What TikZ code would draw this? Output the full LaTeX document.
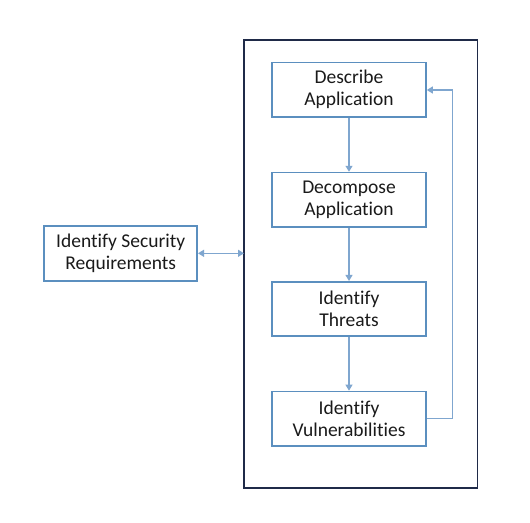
\documentclass[tikz,border=0pt]{standalone}
\usepackage{fontspec}
\setmainfont{Carlito}[Ligatures={NoCommon}]
\usetikzlibrary{arrows.meta}
\definecolor{boxc}{HTML}{5B8FBF}
\definecolor{arrc}{HTML}{7FA6CF}
\definecolor{outc}{HTML}{1F2A48}
\definecolor{txtc}{HTML}{1A1A1A}
\begin{document}
\begin{tikzpicture}[x=1pt,y=-1pt,
  stepbox/.style={draw=boxc,line width=1.6pt,fill=white,text=txtc,minimum width=154pt,minimum height=54.5pt,inner sep=0pt,align=center,font=\fontsize{19.5pt}{22pt}\selectfont},
  conn/.style={draw=arrc,line width=1.2pt,-{Triangle[width=7pt,length=6pt]}}]
\useasboundingbox (0,0) rectangle (530,522);
\fill[white] (0,0) rectangle (530,522);
\draw[outc,line width=1.5pt] (244,40) rectangle (477.5,488);
\node[stepbox] (d1) at (349,89.8) {Describe\\Application};
\node[stepbox] (d2) at (349,199.8) {Decompose\\Application};
\node[stepbox] (d3) at (349,309) {Identify\\Threats};
\node[stepbox] (d4) at (349,418.7) {Identify\\Vulnerabilities};
\node[stepbox,minimum width=153pt,minimum height=55pt] (sr) at (120.7,253.3) {Identify Security\\Requirements};
\coordinate (wall) at (244,253.3);
\draw[conn] (d1) -- (d2);
\draw[conn] (d2) -- (d3);
\draw[conn] (d3) -- (d4);
\draw[conn] (d4.east) -- (452.7,418.7) -- (452.7,90) -- (d1.east |- 0,90);
\draw[draw=arrc,line width=1.2pt,{Triangle[width=7pt,length=6pt]}-{Triangle[width=7pt,length=6pt]}] (sr.east) -- (wall);
\end{tikzpicture}
\end{document}
